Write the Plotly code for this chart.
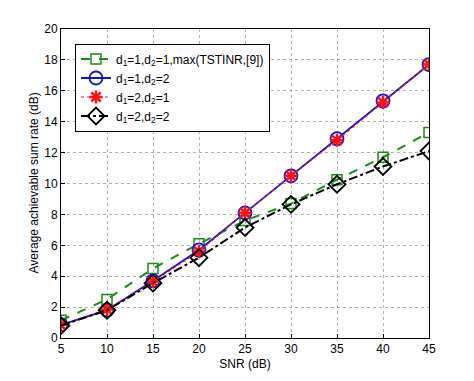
import plotly.graph_objects as go

snr = [5, 10, 15, 20, 25, 30, 35, 40, 45]
green_vals = [1.15, 2.5, 4.5, 6.1, 7.6, 8.7, 10.25, 11.7, 13.3]
blue_vals = [0.85, 1.8, 3.7, 5.7, 8.1, 10.5, 12.9, 15.35, 17.7]
red_vals = [0.85, 1.85, 3.65, 5.6, 8.1, 10.5, 12.8, 15.25, 17.7]
black_vals = [0.8, 1.8, 3.55, 5.2, 7.15, 8.65, 9.95, 11.1, 12.1]

names = ["d<sub>1</sub>=1,d<sub>2</sub>=1,max(TSTINR,[9])",
         "d<sub>1</sub>=1,d<sub>2</sub>=2",
         "d<sub>1</sub>=2,d<sub>2</sub>=1",
         "d<sub>1</sub>=2,d<sub>2</sub>=2"]
y_title = "Average achievable sum rate (dB)"
x_title = "SNR (dB)"

FONT = "Liberation Sans, Arial"

fig = go.Figure()
fig.add_trace(go.Scatter(x=snr, y=green_vals, name=names[0], mode="lines+markers",
                         line=dict(color="#1a8a1a", width=2, dash="dash"),
                         marker=dict(symbol="square-open", size=10, color="#1a8a1a", line=dict(width=1.5))))
fig.add_trace(go.Scatter(x=snr, y=blue_vals, name=names[1], mode="lines+markers",
                         line=dict(color="#1010e0", width=1.8),
                         marker=dict(symbol="circle-open", size=13, color="#1010e0", line=dict(width=1.8))))
fig.add_trace(go.Scatter(x=snr, y=red_vals, name=names[2], mode="lines+markers",
                         line=dict(color="#ff1010", width=1.2, dash="dot"),
                         marker=dict(symbol="asterisk-open", size=11, color="#ff1010", line=dict(width=2.5, color="#ff1010"))))
fig.add_trace(go.Scatter(x=snr, y=black_vals, name=names[3], mode="lines+markers",
                         line=dict(color="black", width=2, dash="dashdot"),
                         marker=dict(symbol="diamond-open", size=13, color="black", line=dict(width=1.8))))

axis_common = dict(showline=True, linecolor="black", linewidth=1, mirror=True,
                   ticks="inside", ticklen=4, tickcolor="black", automargin=False,
                   showgrid=True, gridcolor="#b0b0b0", griddash="dot", gridwidth=1,
                   zeroline=False, tickfont=dict(family=FONT, size=12, color="black"))

fig.update_xaxes(range=[5, 45], tickvals=[5, 10, 15, 20, 25, 30, 35, 40, 45],
                 title=dict(text=x_title, font=dict(family=FONT, size=12, color="black"), standoff=4),
                 **axis_common)
fig.update_yaxes(range=[0, 20], tickvals=list(range(0, 21, 2)), **axis_common)

fig.add_annotation(text=y_title, xref="paper", yref="paper", x=0, y=0.5,
                   xshift=-28, textangle=-90, showarrow=False,
                   xanchor="center", yanchor="middle",
                   font=dict(family=FONT, size=12, color="black"))

fig.update_layout(
    width=466, height=373,
    margin=dict(l=53, r=45, t=21, b=43),
    paper_bgcolor="white", plot_bgcolor="white",
    legend=dict(x=0.038, y=0.953, xanchor="left", yanchor="top",
                bordercolor="black", borderwidth=1, bgcolor="white",
                font=dict(family=FONT, size=12, color="black"),
                tracegroupgap=0, itemwidth=30),
    showlegend=True,
)

fig.write_html("out.html")
